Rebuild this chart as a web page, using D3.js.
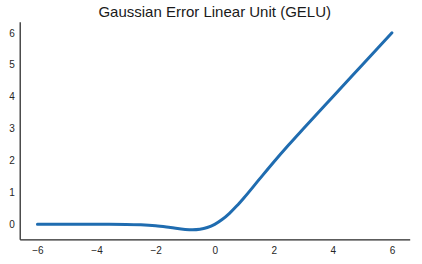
<!DOCTYPE html>
<html>
<head>
<meta charset="utf-8">
<script src="https://cdn.jsdelivr.net/npm/d3@7"></script>
<style>
  body { margin: 0; background: #fff; }
  text { font-family: "Liberation Sans", Arial, sans-serif; }
</style>
</head>
<body>
<script>
// values
var xs = [-6, -5, -4, -3, -2.5, -2, -1.5, -1, -0.75, -0.5, -0.25, 0, 0.25, 0.5, 0.75, 1, 1.5, 2, 2.5, 3, 4, 5, 6];
var ys = [0, 0, -0.0001, -0.004, -0.0155, -0.0455, -0.100, -0.159, -0.170, -0.154, -0.100, 0, 0.150, 0.346, 0.580, 0.841, 1.400, 1.955, 2.485, 2.996, 4.0, 5.0, 6.0];
var xTicks = [-6, -4, -2, 0, 2, 4, 6];
var yTicks = [0, 1, 2, 3, 4, 5, 6];

var W = 422, H = 264;
var m = {left: 19.7, right: 12.3, top: 21.7, bottom: 24.7};

var svg = d3.select("body").append("svg")
  .attr("width", W)
  .attr("height", H);

var x = d3.scaleLinear().domain([-6.6, 6.6]).range([m.left, W - m.right]);
var y = d3.scaleLinear().domain([-0.4685, 6.3485]).range([H - m.bottom, m.top]);

var pts = xs.map(function(v, i) { return [v, ys[i]]; });

var line = d3.line()
  .x(function(d) { return x(d[0]); })
  .y(function(d) { return y(d[1]); })
  .curve(d3.curveMonotoneX);

svg.append("path")
  .datum(pts)
  .attr("d", line)
  .attr("fill", "none")
  .attr("stroke", "#1f6cb0")
  .attr("stroke-width", 3)
  .attr("stroke-linecap", "round");

var xAxis = svg.append("g")
  .attr("transform", "translate(0," + (H - m.bottom) + ")")
  .call(d3.axisBottom(x).tickValues(xTicks).tickFormat(d3.format("d")).tickSize(0).tickPadding(8));
var yAxis = svg.append("g")
  .attr("transform", "translate(" + m.left + ",0)")
  .call(d3.axisLeft(y).tickValues(yTicks).tickFormat(d3.format("d")).tickSize(0).tickPadding(5));

[xAxis, yAxis].forEach(function(g) {
  g.select(".domain").attr("stroke", "#262626").attr("stroke-width", 1.25);
  g.selectAll("text")
    .attr("fill", "#262626")
    .style("font-size", "10px")
    .style("font-family", "'Liberation Sans', Arial, sans-serif");
});

svg.append("text")
  .attr("x", (m.left + W - m.right) / 2)
  .attr("y", 17)
  .attr("text-anchor", "middle")
  .attr("fill", "#1a1a1a")
  .style("font-size", "15px")
  .text("Gaussian Error Linear Unit (GELU)");
</script>
</body>
</html>
